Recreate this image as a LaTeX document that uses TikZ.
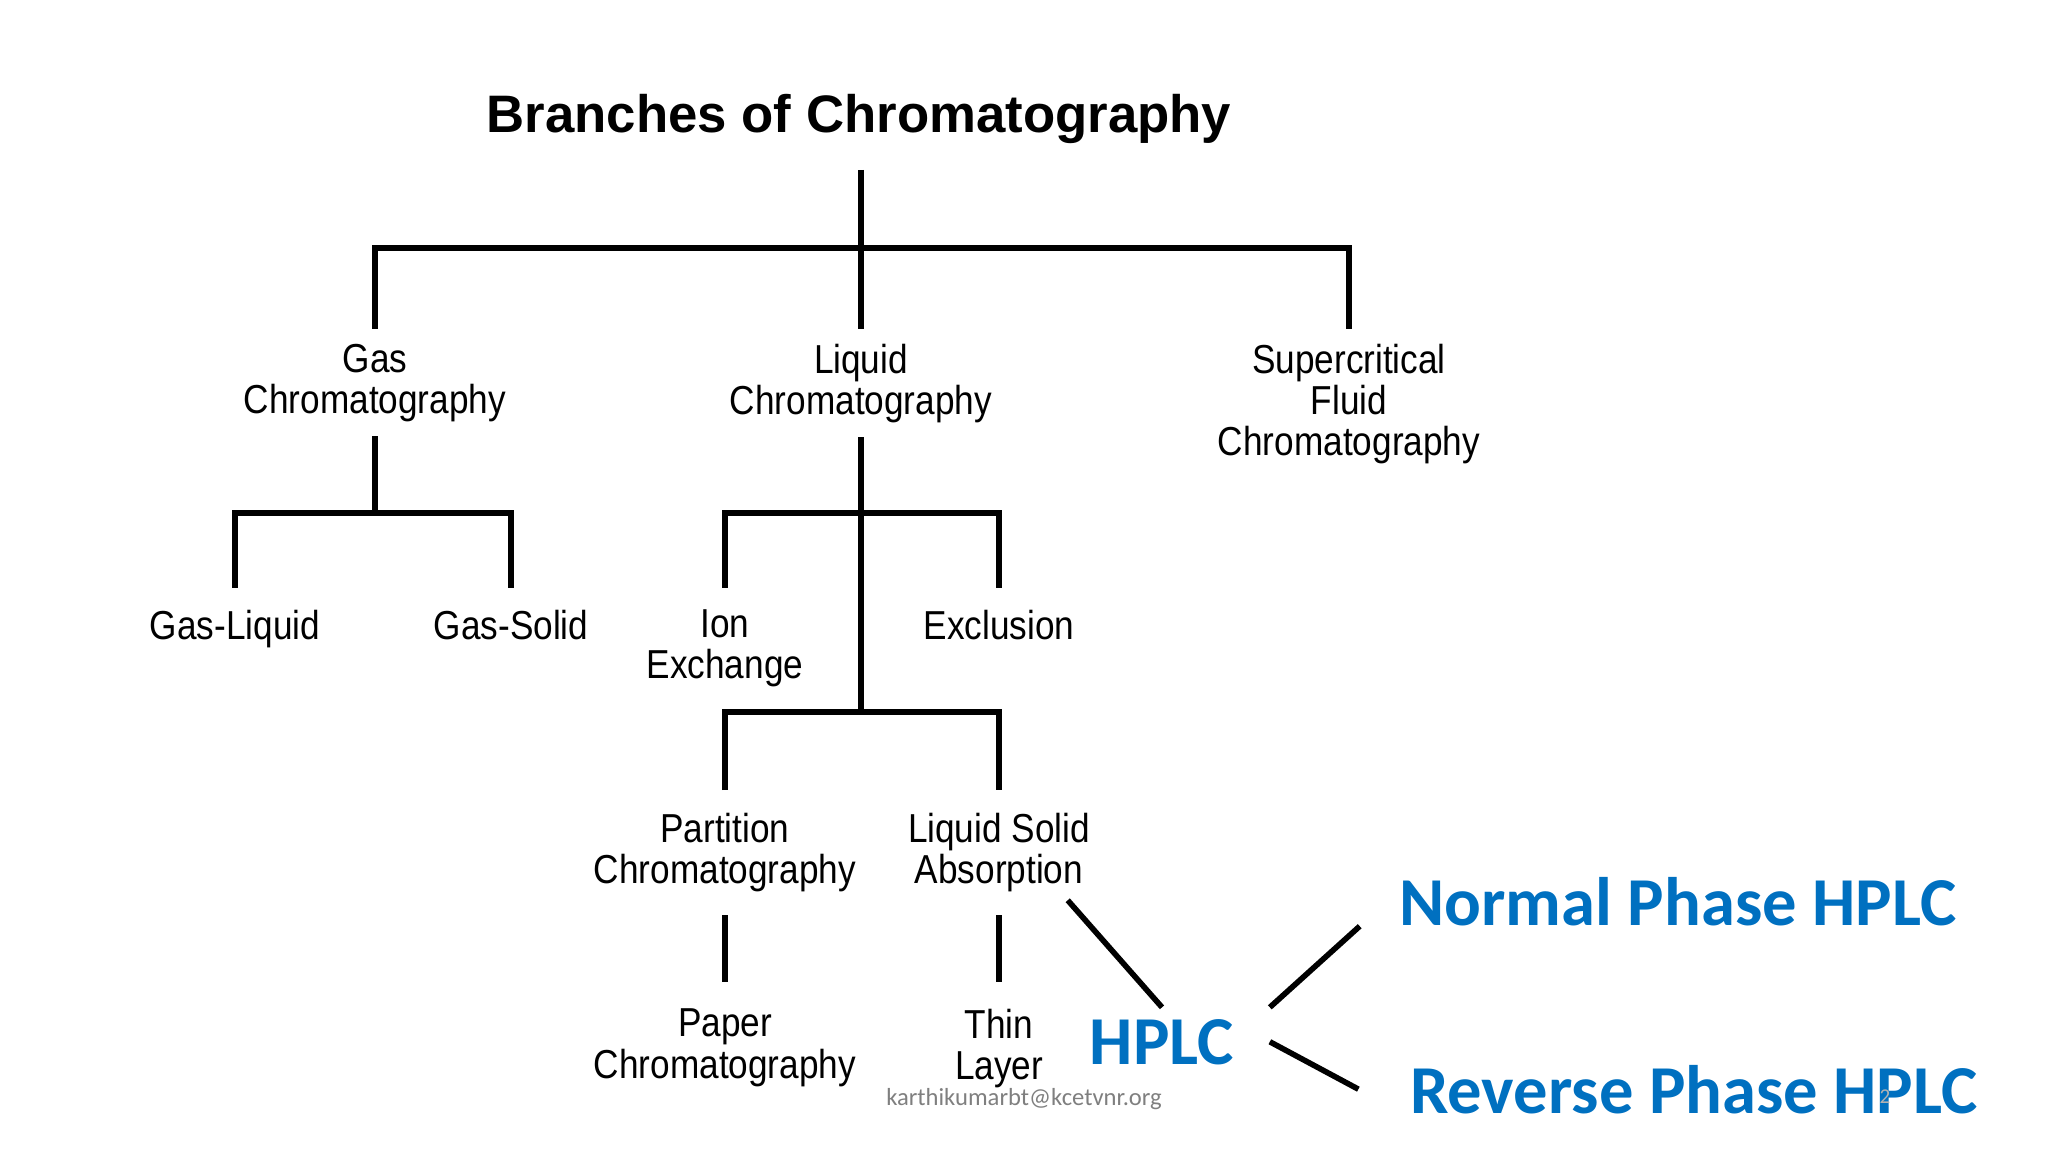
\documentclass[tikz,border=0pt]{standalone}
\usepackage{fontspec}
\setmainfont{Liberation Sans}
\newfontfamily\narrowsans[FakeStretch=0.87]{Liberation Sans}
\newfontfamily\calibri{Carlito}

\definecolor{hplcblue}{RGB}{0,112,192}
\definecolor{footgray}{RGB}{127,127,127}

\begin{document}
\begin{tikzpicture}[
        x=0.01cm, y=-0.01cm,
        branch/.style={line width=1.5pt, line join=miter},
        method/.style={anchor=north, align=center, inner sep=4pt,
          font=\narrowsans\fontsize{11.5}{11.7}\selectfont},
        phase/.style={anchor=base, inner ysep=0pt, text=hplcblue,
          font=\calibri\bfseries\fontsize{19.5}{22}\selectfont},
        link/.style={line width=1.6pt},
      ]

      \useasboundingbox (0,0) rectangle (2048,1152);

      % title and junctions
      \node[anchor=base, inner sep=0pt, font=\bfseries\fontsize{15}{18}\selectfont]
        (title) at (859,133) {Branches of Chromatography};
      \coordinate (top)   at (861,170);
      \coordinate (mainj) at (861,248);
      \coordinate (gasj)  at (375,513);
      \coordinate (ionj)  at (861,513);
      \coordinate (lsj)   at (861,712);

      % methods
      \node[method] (gas)    at (375,329)  {Gas\\Chromatography};
      \node[method] (liquid) at (861,329)  {Liquid\\Chromatography};
      \node[method] (sfc)    at (1349,329) {Supercritical\\Fluid\\Chromatography};

      \node[method, inner ysep=6pt] (gasliq) at (235,588) {Gas-Liquid};
      \node[method, inner ysep=6pt] (gassol) at (511,588) {Gas-Solid};
      \node[method, inner ysep=6pt] (ion)    at (725,588) {Ion\\Exchange};
      \node[method, inner ysep=6pt] (excl)   at (999,588) {Exclusion};

      \node[method, inner ysep=6.4pt] (part) at (725,790) {Partition\\Chromatography};
      \node[method, inner ysep=6.4pt] (lsa)  at (999,790) {Liquid Solid\\Absorption};

      \node[method, inner ysep=7.5pt] (paper) at (725,982) {Paper\\Chromatography};
      \node[method, inner ysep=7.5pt] (thin)  at (999,982) {Thin\\Layer};

      % HPLC
      \node[phase, inner xsep=0.35cm, inner ysep=0.11cm] (hplc) at (1162,1064) {HPLC};
      \node[phase, inner xsep=0.39cm] (normal)  at (1678,925)  {Normal Phase HPLC};
      \node[phase, inner xsep=0.51cm] (reverse) at (1694,1113) {Reverse Phase HPLC};

      \node[anchor=base, text=footgray, font=\calibri\fontsize{7}{8}\selectfont]
        (mail) at (1024,1105) {karthikumarbt@kcetvnr.org};
      \node[anchor=base, text=footgray!60, font=\calibri\fontsize{6}{7}\selectfont]
        (pagenum) at (1885,1103) {2};

      % tree
      \draw[branch] (top) -- (liquid.north);
      \draw[branch] (gas.north) -- (gas.north |- mainj) -- (sfc.north |- mainj) -- (sfc.north);
      \draw[branch] (gas.south) -- (gasj);
      \draw[branch] (gasliq.north) -- (gasliq.north |- gasj) -- (gassol.north |- gasj) -- (gassol.north);
      \draw[branch] (liquid.south) -- (lsj);
      \draw[branch] (ion.north) -- (ion.north |- ionj) -- (excl.north |- ionj) -- (excl.north);
      \draw[branch] (part.north) -- (part.north |- lsj) -- (lsa.north |- lsj) -- (lsa.north);
      \draw[branch] (part.south) -- (paper.north);
      \draw[branch] (lsa.south) -- (thin.north);

      \draw[link] ([shift={(-37,-15)}]lsa.south east) -- (hplc.north);
      \draw[link] (hplc.north east) -- (normal.south west);
      \draw[link] (hplc.east) -- (reverse.west);

    \end{tikzpicture}
\end{document}
